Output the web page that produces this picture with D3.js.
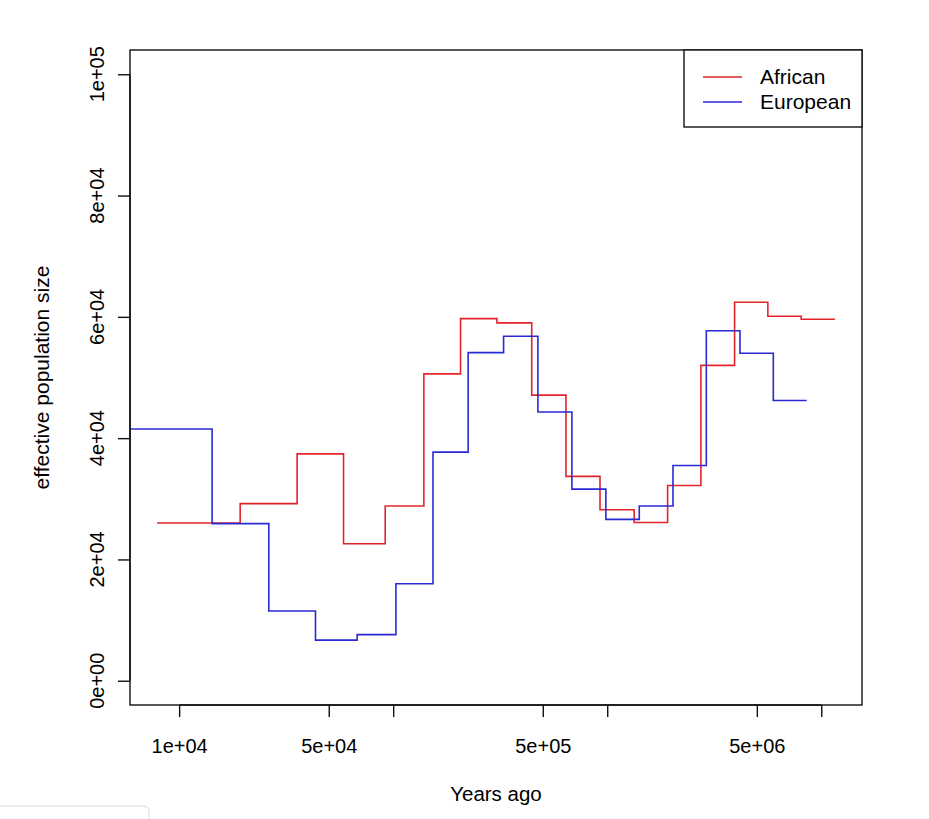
<!DOCTYPE html>
<html>
<head>
<meta charset="utf-8">
<script src="https://cdn.jsdelivr.net/npm/d3@7"></script>
<style>
  body { margin: 0; background: #fff; }
  text { font-family: "Liberation Sans", Arial, sans-serif; fill: #000; }
</style>
</head>
<body>
<div id="chart-area"></div>
<script>
// step data: time where each step starts, Ne for that step
var africanYears = [7890, 19280, 35580, 58610, 91780, 139100, 206400, 305300, 443900,
    641500, 925300, 1336000, 1915000, 2740000, 3936000, 5630000, 8060000, 11580000];
var africanNe = [26000, 29200, 37400, 22600, 28800, 50600, 59700, 59000, 47100,
    33700, 28200, 26100, 32200, 52000, 62400, 60100, 59600, 59600];

var europeanYears = [5000, 14260, 26240, 43350, 67860, 103000, 153500, 224000, 328000,
    474500, 683900, 985600, 1412000, 2029000, 2904000, 4171000, 5970000, 8550000];
var europeanNe = [41500, 25900, 11500, 6700, 7600, 16000, 37700, 54100, 56800,
    44300, 31600, 26600, 28800, 35500, 57700, 54000, 46200, 46200];

var xTicks = [1e4, 5e4, 1e5, 5e5, 1e6, 5e6, 1e7];
var xTickLabels = ["1e+04", "5e+04", "", "5e+05", "", "5e+06", ""];
var yTicks = [0, 20000, 40000, 60000, 80000, 100000];
var yTickLabels = ["0e+00", "2e+04", "4e+04", "6e+04", "8e+04", "1e+05"];

var seriesNames = ["African", "European"];
var seriesColors = ["#e3242b", "#2a2ad4"];

var width = 929, height = 819;
var plotLeft = 130, plotRight = 862, plotTop = 50, plotBottom = 705;

var svg = d3.select("#chart-area").append("svg")
    .attr("width", width)
    .attr("height", height);

// R style log axis with 4% padding around the first series
var lo = Math.log10(d3.min(africanYears)), hi = Math.log10(d3.max(africanYears));
var pad = (hi - lo) * 0.04;
var x = d3.scaleLog()
    .domain([Math.pow(10, lo - pad), Math.pow(10, hi + pad)])
    .range([plotLeft, plotRight]);

var y = d3.scaleLinear()
    .domain([-4000, 104000])
    .range([plotBottom, plotTop]);

svg.append("clipPath").attr("id", "plot-clip")
    .append("rect")
    .attr("x", plotLeft).attr("y", plotTop)
    .attr("width", plotRight - plotLeft).attr("height", plotBottom - plotTop);

var line = d3.line()
    .x(function (d) { return x(d[0]); })
    .y(function (d) { return y(d[1]); })
    .curve(d3.curveStepAfter);

var series = [
    d3.zip(africanYears, africanNe),
    d3.zip(europeanYears, europeanNe)
];

svg.selectAll("path.step")
    .data(series)
    .enter().append("path")
    .attr("class", "step")
    .attr("clip-path", "url(#plot-clip)")
    .attr("d", line)
    .attr("fill", "none")
    .attr("stroke", function (d, i) { return seriesColors[i]; })
    .attr("stroke-width", 1.6);

// box
svg.append("rect")
    .attr("x", plotLeft).attr("y", plotTop)
    .attr("width", plotRight - plotLeft).attr("height", plotBottom - plotTop)
    .attr("fill", "none")
    .attr("stroke", "#111")
    .attr("stroke-width", 1.4);

// x axis
var xAxis = d3.axisBottom(x)
    .tickValues(xTicks)
    .tickSize(12)
    .tickPadding(22)
    .tickFormat(function (d, i) { return xTickLabels[i]; });

var gx = svg.append("g")
    .attr("transform", "translate(0," + plotBottom + ")")
    .call(xAxis);
gx.select(".domain")
    .attr("d", "M" + x(xTicks[0]) + ",0H" + x(xTicks[xTicks.length - 1]))
    .attr("stroke", "#111").attr("stroke-width", 1.4);
gx.selectAll(".tick line").attr("stroke", "#111").attr("stroke-width", 1.4);
gx.selectAll(".tick text")
    .style("font-size", "20px")
    .style("font-family", "'Liberation Sans', Arial, sans-serif");

// y axis, labels turned like R's las = 0
var yAxis = d3.axisLeft(y)
    .tickValues(yTicks)
    .tickSize(12)
    .tickFormat("");

var gy = svg.append("g")
    .attr("transform", "translate(" + plotLeft + ",0)")
    .call(yAxis);
gy.select(".domain")
    .attr("d", "M0," + y(yTicks[0]) + "V" + y(yTicks[yTicks.length - 1]))
    .attr("stroke", "#111").attr("stroke-width", 1.4);
gy.selectAll(".tick line").attr("stroke", "#111").attr("stroke-width", 1.4);

svg.selectAll("text.ylab")
    .data(yTicks)
    .enter().append("text")
    .attr("class", "ylab")
    .attr("transform", function (d) { return "translate(104," + y(d) + ") rotate(-90)"; })
    .attr("text-anchor", "middle")
    .style("font-size", "20px")
    .text(function (d, i) { return yTickLabels[i]; });

// axis titles
svg.append("text")
    .attr("x", (plotLeft + plotRight) / 2)
    .attr("y", 801)
    .attr("text-anchor", "middle")
    .style("font-size", "20.5px")
    .text("Years ago");

svg.append("text")
    .attr("transform", "translate(49," + (plotTop + plotBottom) / 2 + ") rotate(-90)")
    .attr("text-anchor", "middle")
    .style("font-size", "21px")
    .text("effective population size");

// legend
var legend = svg.append("g");
legend.append("rect")
    .attr("x", 684).attr("y", plotTop)
    .attr("width", plotRight - 684).attr("height", 77)
    .attr("fill", "#fff")
    .attr("stroke", "#111")
    .attr("stroke-width", 1.4);

var item = legend.selectAll("g.item")
    .data(seriesNames)
    .enter().append("g")
    .attr("class", "item")
    .attr("transform", function (d, i) { return "translate(0," + (77 + i * 25) + ")"; });

item.append("line")
    .attr("x1", 703).attr("x2", 742)
    .attr("stroke", function (d, i) { return seriesColors[i]; })
    .attr("stroke-width", 1.6);

item.append("text")
    .attr("x", 760)
    .attr("y", 7)
    .style("font-size", "21px")
    .text(function (d) { return d; });

// bit of the viewer window at the bottom left
svg.append("rect")
    .attr("x", -10).attr("y", 806)
    .attr("width", 159).attr("height", 30)
    .attr("rx", 5)
    .attr("fill", "#fff")
    .attr("stroke", "#d8d8d8");
</script>
</body>
</html>
